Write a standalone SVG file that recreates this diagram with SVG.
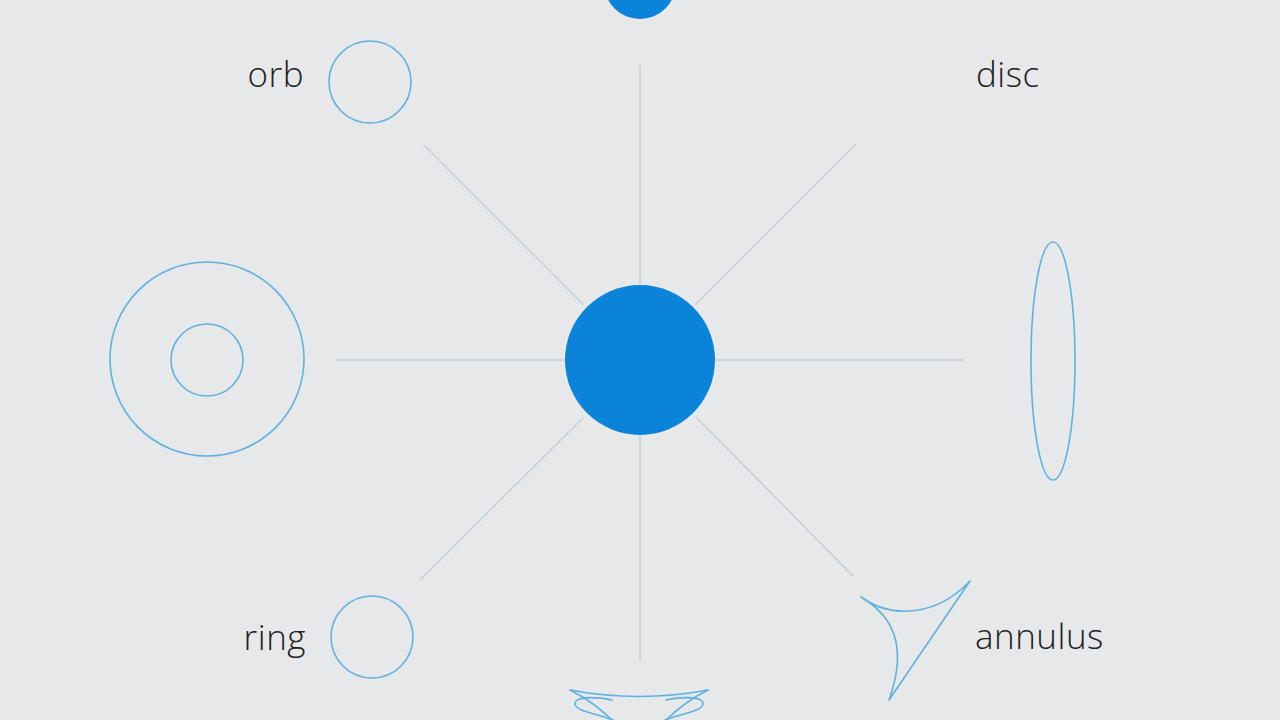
<svg xmlns="http://www.w3.org/2000/svg" width="1280" height="720" viewBox="0 0 1280 720">
<defs>
<style>
.bg{fill:#e7e8e9}
.conn{stroke:#c3cfd9;stroke-width:1.4;fill:none;stroke-linecap:round}
.shape{fill:none;stroke:#5fb0e0;stroke-width:1.6;stroke-linejoin:round;stroke-linecap:round}
.solid{fill:#0984d9}
.lbl{font-family:"Open Sans","DejaVu Sans",sans-serif;font-weight:300;font-size:35px;letter-spacing:0.5px;fill:#222}
</style>
</defs>
<rect class="bg" x="0" y="0" width="1280" height="720"/>
<g id="connectors">
<line class="conn" x1="640" y1="65" x2="640" y2="285"/>
<line class="conn" x1="640" y1="435" x2="640" y2="660"/>
<line class="conn" x1="337" y1="360" x2="565" y2="360"/>
<line class="conn" x1="715" y1="360" x2="963" y2="360"/>
<line class="conn" x1="424" y1="145" x2="583" y2="304"/>
<line class="conn" x1="855" y1="145" x2="696" y2="304"/>
<line class="conn" x1="420" y1="580" x2="583" y2="418"/>
<line class="conn" x1="853" y1="576" x2="697" y2="418"/>
</g>
<g id="center"><circle class="solid" cx="640" cy="360" r="75"/></g>
<g id="top"><circle class="solid" cx="640" cy="-17" r="36"/></g>
<g id="orb">
<circle class="shape" cx="370" cy="82" r="41"/>
<text class="lbl" x="304" y="87" text-anchor="end">orb</text>
</g>
<g id="disc">
<text class="lbl" x="976" y="87">disc</text>
</g>
<g id="target">
<circle class="shape" cx="207" cy="359" r="97"/>
<circle class="shape" cx="207" cy="360" r="36"/>
</g>
<g id="ellipse"><ellipse class="shape" cx="1053" cy="361" rx="22" ry="119"/></g>
<g id="ring">
<circle class="shape" cx="372" cy="637" r="41"/>
<text class="lbl" x="306" y="650" text-anchor="end">ring</text>
</g>
<g id="annulus">
<path class="shape" d="M 861 597 C 890 618 935 618 970 581 L 889 700 C 905 655 900 620 861 597 Z"/>
<text class="lbl" x="975" y="649">annulus</text>
</g>
<g id="bottom">
<path class="shape" d="M 570 690 Q 639 703 708 690"/>
<path class="shape" d="M 570 690 C 590 700 604 712 614 722"/>
<path class="shape" d="M 708 690 C 688 700 674 712 664 722"/>
<path class="shape" d="M 618 722 C 600 714 576 712 575 704 C 574 697 592 696 612 700"/>
<path class="shape" d="M 660 722 C 678 714 702 712 703 704 C 704 697 686 696 666 700"/>
</g>
</svg>
